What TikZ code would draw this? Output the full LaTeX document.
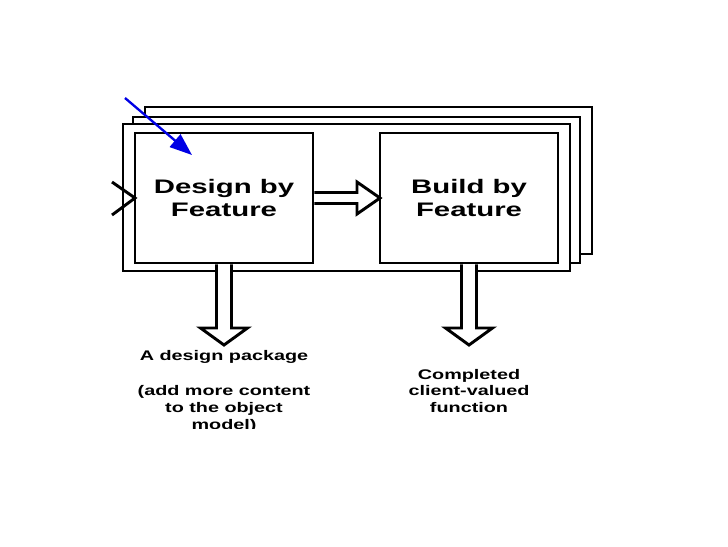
\documentclass[tikz,border=0pt]{standalone}
\usepackage{fontspec}
\setmainfont{Liberation Sans}
\usetikzlibrary{arrows.meta,positioning,calc}
\newcommand{\wide}[1]{\scalebox{1.42}[1]{#1}}
\newcommand{\wider}[1]{\scalebox{1.5}[1]{#1}}

\begin{document}
\begin{tikzpicture}[
    x=0.03cm, y=-0.03cm,
    page/.style={draw, line width=2.5pt, fill=white},
    stepbox/.style={draw, line width=2.5pt, fill=white, minimum width=5.34cm, minimum height=3.9cm, inner sep=0pt, outer sep=0pt},
    boxtext/.style={font=\fontsize{16.7}{19.5}\selectfont\bfseries, align=center},
    note/.style={font=\fontsize{11.9}{14.5}\selectfont\bfseries, align=center, inner sep=0pt},
    hollow/.style={draw, line width=2.5pt, fill=white, line join=miter},
    bluearrow/.style={draw=blue!90!black, line width=2pt, -{Triangle[length=19pt, width=14pt]}}
]
\useasboundingbox (0,0) rectangle (728,546);
% stacked pages behind the steps
\draw[page] (145,107) rectangle (592,254);
\draw[page] (133,117) rectangle (580,263);
\draw[page] (123,124) rectangle (570,271);

% the two steps
\node[stepbox] (design) at (224,198) {};
\node[stepbox, right=2.01cm of design] (build) {};
\node[boxtext] (designtext) at (design) {\wider{Design by}\\\wider{Feature}};
\node[boxtext] (buildtext) at (build) {\wider{Build by}\\\wider{Feature}};

% hollow arrow between the steps
\draw[hollow] ($(design.east)+(1.4,-5.5)$) -- ($(design.east)+(44,-5.5)$)
    -- ($(design.east)+(44,-16)$) -- (build.west) -- ($(design.east)+(44,16)$)
    -- ($(design.east)+(44,5.5)$) -- ($(design.east)+(1.4,5.5)$);

% outputs
\foreach \step in {design, build} {
  \draw[hollow] ($(\step.south)+(-7.5,1.4)$) -- ($(\step.south)+(-7.5,65)$)
      -- ($(\step.south)+(-23.5,65)$) -- ($(\step.south)+(0,82)$)
      -- ($(\step.south)+(23.5,65)$) -- ($(\step.south)+(7.5,65)$)
      -- ($(\step.south)+(7.5,1.4)$);
}

% input
\draw[line width=2.5pt] ($(design.west)+(-23,-16)$) -- (design.west) -- ($(design.west)+(-23,17)$);
\coordinate (bluetail) at (125,98);
\coordinate (bluetip) at ($(design.north west)+(57,22)$);
\draw[bluearrow] (bluetail) -- (bluetip);

% notes
\node[note] (package) at ($(design.south)+(0,94)$) {\wide{A design package}};
\begin{scope}
\clip (0,0) rectangle (728,428);
\node[note] (content) at ($(design.south)+(0,146)$) {\wide{(add more content}\\\wide{to the object}\\\wide{model)}};
\end{scope}
\node[note] (function) at ($(build.south)+(0,128)$) {\wide{Completed}\\\wide{client-valued}\\\wide{function}};
\end{tikzpicture}
\end{document}
